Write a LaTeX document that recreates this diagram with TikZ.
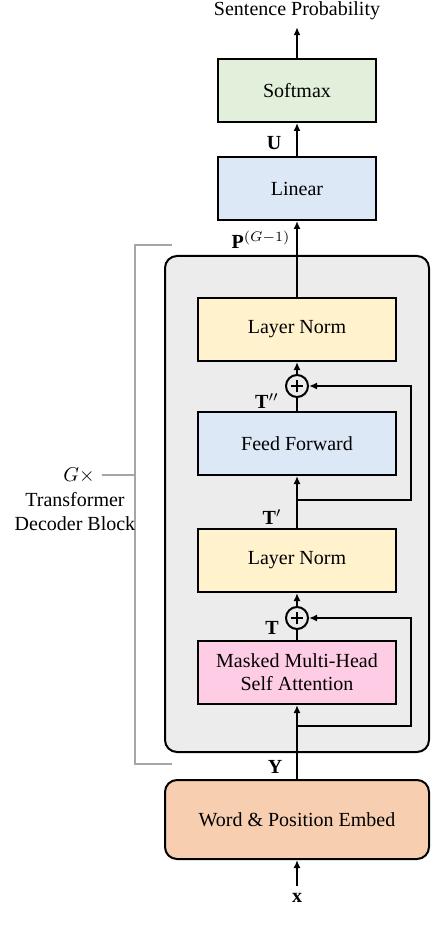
\documentclass[tikz,border=0pt]{standalone}
\usepackage{fontspec}
\setmainfont{Liberation Serif}
\usepackage{tikz}
\usetikzlibrary{arrows.meta}
\definecolor{smx}{RGB}{226,239,218}
\definecolor{lin}{RGB}{220,232,246}
\definecolor{lnorm}{RGB}{255,242,204}
\definecolor{attn}{RGB}{255,204,230}
\definecolor{embd}{RGB}{248,206,176}
\definecolor{blk}{RGB}{236,236,236}
\newcommand{\drawflow}{\draw[-{Latex[length=4pt,width=3.5pt]}, line width=0.8pt]}
\newcommand{\addsum}[2]{\node[circle, draw, line width=1pt, minimum size=11pt, inner sep=0pt,
    path picture={\draw[line width=1.3pt] (path picture bounding box.center) ++(-3.2pt,0) -- ++(6.4pt,0)
    (path picture bounding box.center) ++(0,-3.2pt) -- ++(0,6.4pt);}] (#1) at #2 {};}
\tikzset{layer/.style={draw, line width=1pt, minimum width=99pt, minimum height=31.5pt, align=center, font=\fontsize{10}{11}\selectfont}}

\begin{document}
\begin{tikzpicture}[x=0.5pt, y=-0.5pt]
\useasboundingbox (0,0) rectangle (432,930);
% decoder block and bracket
\node[draw, line width=1pt, rounded corners=6pt, fill=blk, minimum width=132pt, minimum height=248pt] (block) at (297,504) {};
\draw[gray!70, line width=0.6pt] (172,245) -| (135,764) -- (172,764);
\node (gx) at (79,475) {$G\times$};
\draw[gray!70, line width=0.6pt] (gx.east) -- (135,475);
\node[align=center, font=\fontsize{10}{12}\selectfont] (blkname) at (75,512) {Transformer\\Decoder Block};
% layers
\node (prob) at (297,11) {Sentence Probability};
\node[layer, fill=smx, minimum width=79pt] (softmax) at (297,90.5) {Softmax};
\node[layer, fill=lin, minimum width=79pt] (linear) at (297,188.5) {Linear};
\node[layer, fill=lnorm] (norm2) at (297,329.5) {Layer Norm};
\addsum{plus2}{(297,386)}
\node[layer, fill=lin] (ffwd) at (297,443.5) {Feed Forward};
\coordinate (split2) at (297,500);
\node[layer, fill=lnorm] (norm1) at (297,560.5) {Layer Norm};
\addsum{plus1}{(297,618)}
\node[layer, fill=attn, font=\fontsize{10}{11.5}\selectfont] (attn) at (297,672.5) {Masked Multi-Head\\Self Attention};
\coordinate (split1) at (297,726);
\node[layer, fill=embd, rounded corners=6pt, minimum width=132pt, minimum height=39.5pt] (embed) at (297,819.5) {Word \& Position Embed};
\node (x) at (297,898) {$\mathbf{x}$};
% connectors
\drawflow (x) -- (embed);
\drawflow (embed) -- (attn);
\drawflow (split1) -- ++(114,0) |- (plus1);
\draw[line width=0.8pt] (attn) -- (plus1);
\drawflow (plus1) -- (norm1);
\drawflow (norm1) -- (ffwd);
\drawflow (split2) -- ++(114,0) |- (plus2);
\draw[line width=0.8pt] (ffwd) -- (plus2);
\drawflow (plus2) -- (norm2);
\drawflow (norm2) -- (linear);
\drawflow (linear) -- (softmax);
\drawflow (softmax) -- (prob);
% labels
\node (ylab) at (275,767) {$\mathbf{Y}$};
\node (tlab) at (272,628) {$\mathbf{T}$};
\node (t1lab) at (272,517) {$\mathbf{T}'$};
\node (t2lab) at (267,401) {$\mathbf{T}''$};
\node (plab) at (261,240) {$\mathbf{P}^{(G-1)}$};
\node (ulab) at (274,143) {$\mathbf{U}$};
\end{tikzpicture}
\end{document}
